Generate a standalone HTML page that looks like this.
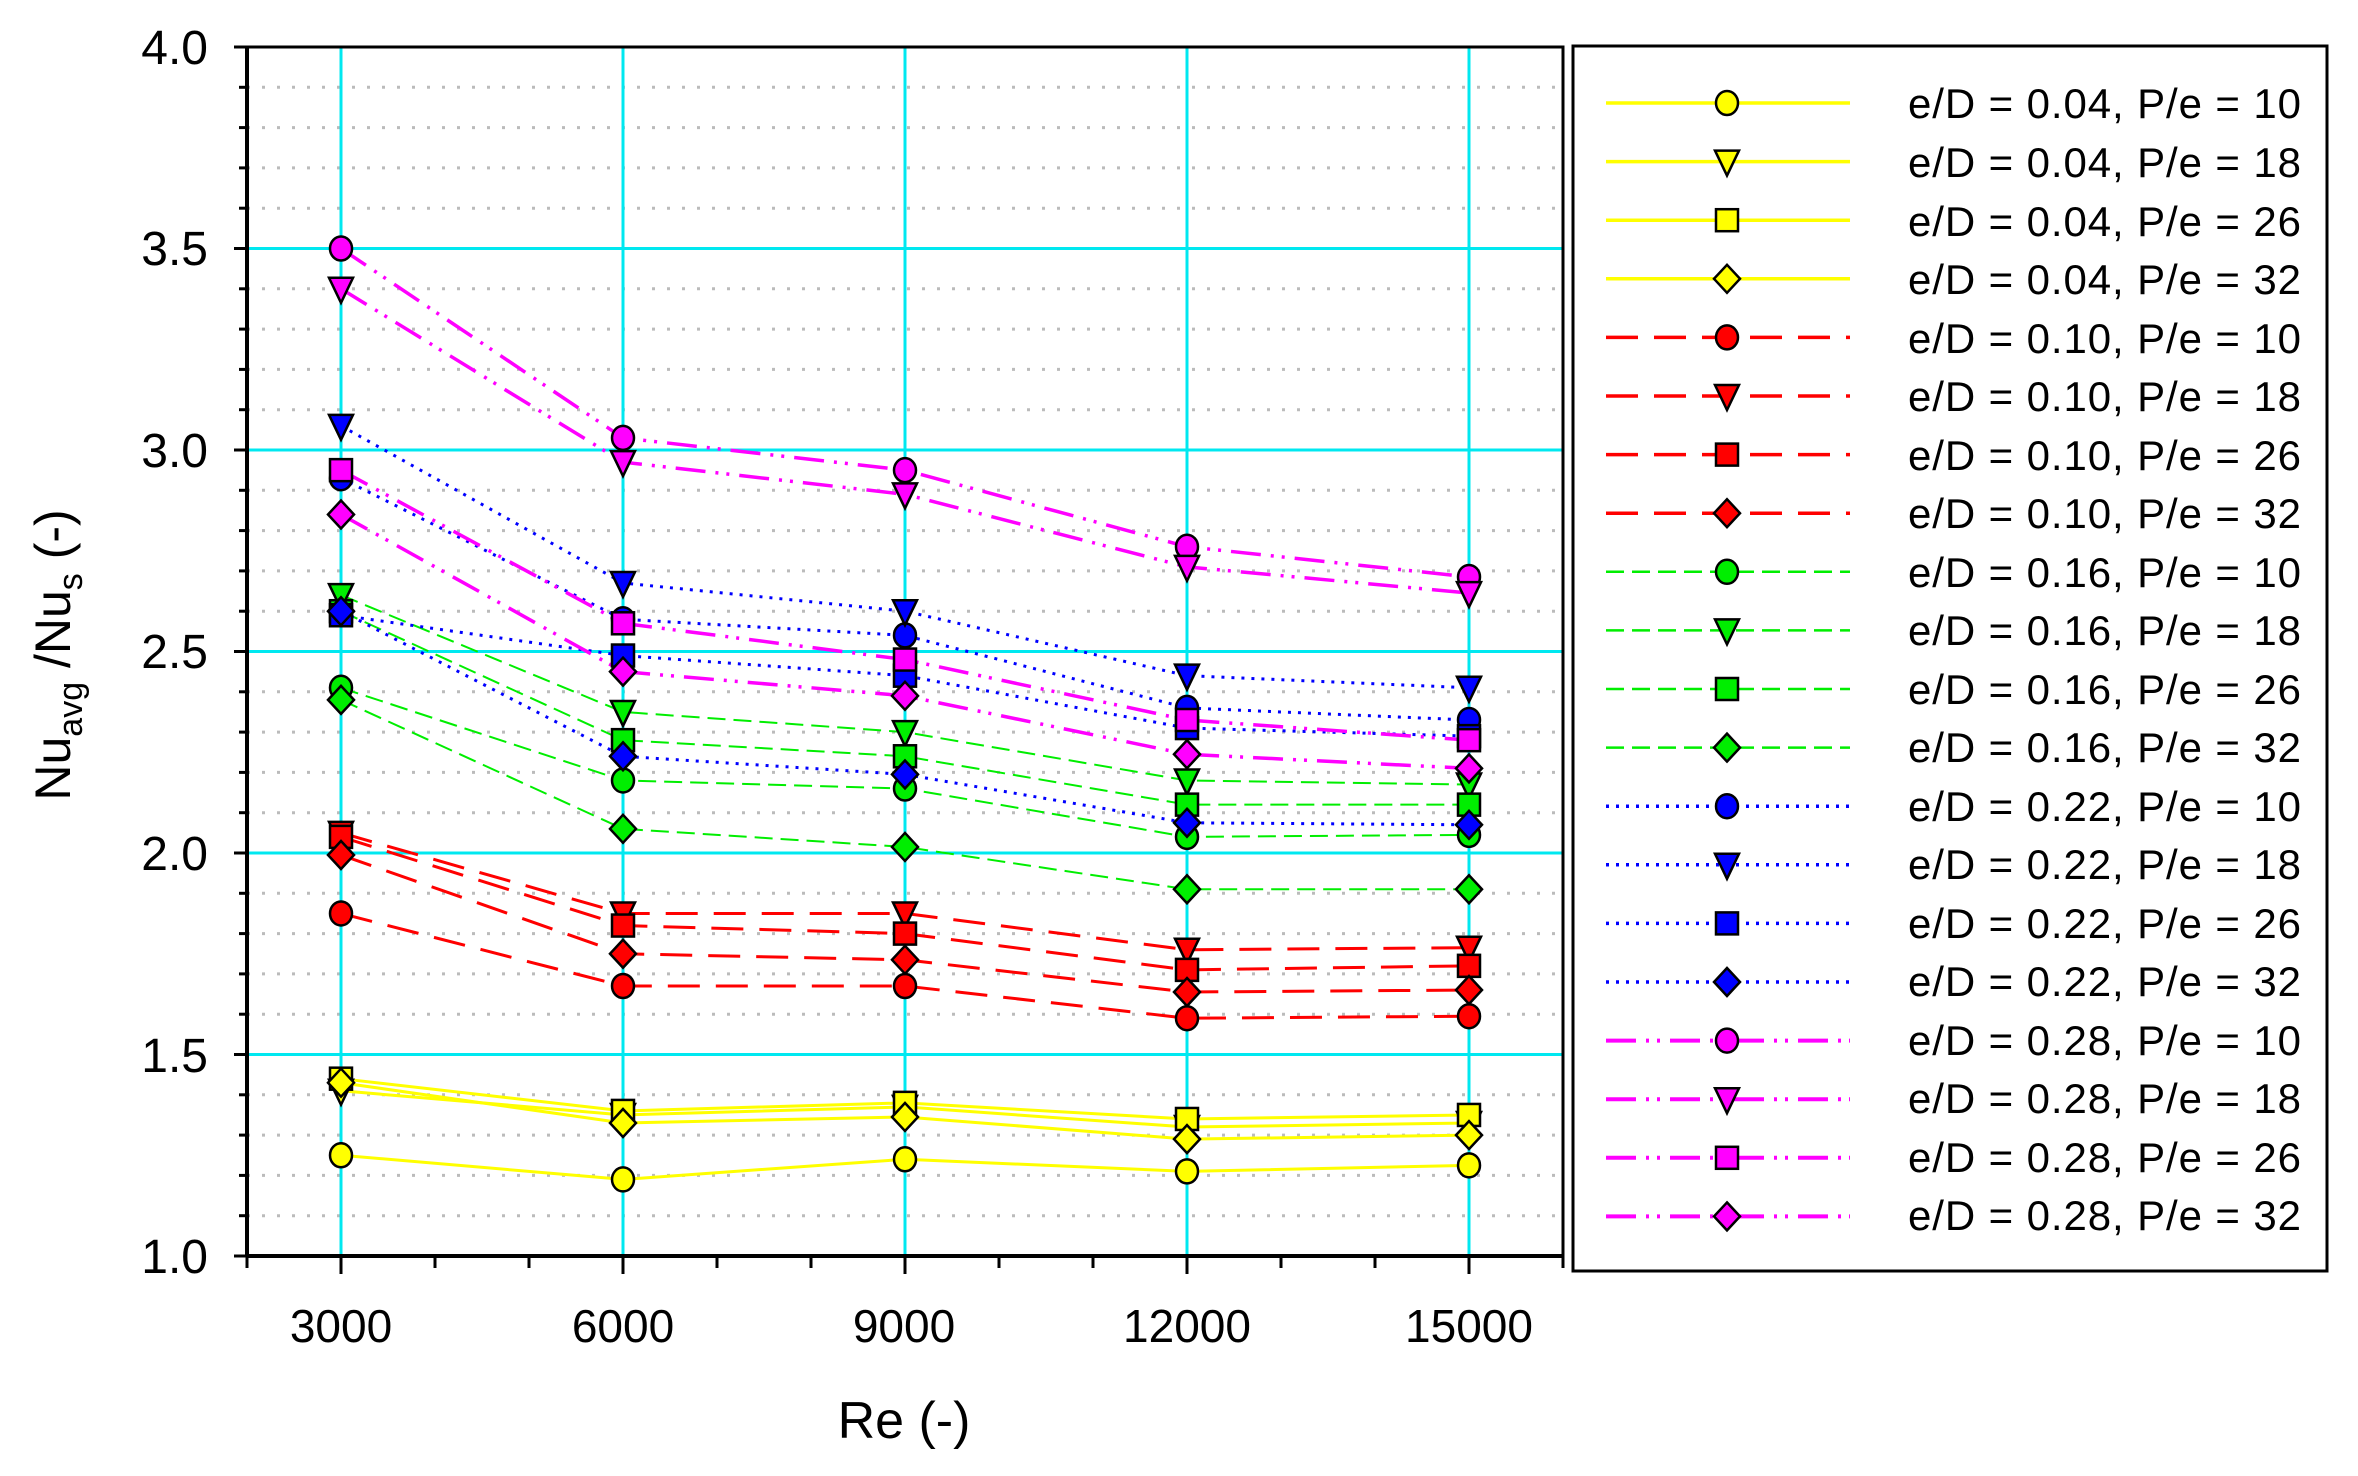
<!DOCTYPE html>
<html><head><meta charset="utf-8"><style>
html,body{margin:0;padding:0;background:#fff;}
svg{display:block;font-family:"Liberation Sans",Arial,sans-serif;}
</style></head><body>
<svg id="s" width="2358" height="1476" viewBox="0 0 2358 1476" xmlns="http://www.w3.org/2000/svg">
<rect width="2358" height="1476" fill="#fff"/>
<g id="grid"></g>
<g id="series"></g>
<g id="axes"></g>
<g font-size="48" fill="#000" text-anchor="end">
<text x="208" y="64">4.0</text>
<text x="208" y="265">3.5</text>
<text x="208" y="467">3.0</text>
<text x="208" y="668">2.5</text>
<text x="208" y="870">2.0</text>
<text x="208" y="1072">1.5</text>
<text x="208" y="1273">1.0</text>
</g>
<g font-size="46" fill="#000" text-anchor="middle">
<text x="341" y="1342">3000</text>
<text x="623" y="1342">6000</text>
<text x="904" y="1342">9000</text>
<text x="1187" y="1342">12000</text>
<text x="1469" y="1342">15000</text>
<text x="904" y="1438" font-size="52">Re (-)</text>
</g>
<text transform="translate(70,655) rotate(-90)" font-size="50" text-anchor="middle">Nu<tspan font-size="34" dy="12">avg</tspan><tspan dy="-12"> /Nu</tspan><tspan font-size="34" dy="12">s</tspan><tspan dy="-12"> (-)</tspan></text>
<rect x="1573" y="46" width="754" height="1225" fill="none" stroke="#000" stroke-width="3"/>
<g id="leg"></g>
<g font-size="42" fill="#000">
<text x="1908" y="118" textLength="393">e/D = 0.04, P/e = 10</text>
<text x="1908" y="177" textLength="393">e/D = 0.04, P/e = 18</text>
<text x="1908" y="236" textLength="393">e/D = 0.04, P/e = 26</text>
<text x="1908" y="294" textLength="393">e/D = 0.04, P/e = 32</text>
<text x="1908" y="353" textLength="393">e/D = 0.10, P/e = 10</text>
<text x="1908" y="411" textLength="393">e/D = 0.10, P/e = 18</text>
<text x="1908" y="470" textLength="393">e/D = 0.10, P/e = 26</text>
<text x="1908" y="528" textLength="393">e/D = 0.10, P/e = 32</text>
<text x="1908" y="587" textLength="393">e/D = 0.16, P/e = 10</text>
<text x="1908" y="645" textLength="393">e/D = 0.16, P/e = 18</text>
<text x="1908" y="704" textLength="393">e/D = 0.16, P/e = 26</text>
<text x="1908" y="762" textLength="393">e/D = 0.16, P/e = 32</text>
<text x="1908" y="821" textLength="393">e/D = 0.22, P/e = 10</text>
<text x="1908" y="879" textLength="393">e/D = 0.22, P/e = 18</text>
<text x="1908" y="938" textLength="393">e/D = 0.22, P/e = 26</text>
<text x="1908" y="996" textLength="393">e/D = 0.22, P/e = 32</text>
<text x="1908" y="1055" textLength="393">e/D = 0.28, P/e = 10</text>
<text x="1908" y="1113" textLength="393">e/D = 0.28, P/e = 18</text>
<text x="1908" y="1172" textLength="393">e/D = 0.28, P/e = 26</text>
<text x="1908" y="1230" textLength="393">e/D = 0.28, P/e = 32</text>
</g>
</svg>
<script>
var NS="http://www.w3.org/2000/svg";
function el(p,t,a){var e=document.createElementNS(NS,t);for(var k in a)e.setAttribute(k,a[k]);p.appendChild(e);return e;}
var L=247,R=1563,T=47,B=1256;
function X(v){return L+(v-2000)/14000*(R-L);}
function Y(v){return B-(v-1)/3*(B-T);}
var g=document.getElementById('grid'),ax=document.getElementById('axes');
for(var i=1;i<30;i++){var v=1+i*0.1;if(i%5==0)continue;el(g,'line',{x1:L,x2:R,y1:Y(v),y2:Y(v),stroke:'#bbb','stroke-width':3,'stroke-dasharray':'3 12'});}
for(var i=1;i<6;i++){var y=Y(1+i*0.5);el(g,'line',{x1:L,x2:R,y1:y,y2:y,stroke:'#00e8f0','stroke-width':3});}
[3000,6000,9000,12000,15000].forEach(function(v){el(g,'line',{x1:X(v),x2:X(v),y1:T,y2:B,stroke:'#00e8f0','stroke-width':3});});
el(ax,'polyline',{points:L+','+T+' '+R+','+T+' '+R+','+B,fill:'none',stroke:'#000','stroke-width':3});
el(ax,'line',{x1:L,x2:L,y1:T,y2:B,stroke:'#000','stroke-width':4});
el(ax,'line',{x1:L,x2:R,y1:B,y2:B,stroke:'#000','stroke-width':4});
for(var i=0;i<=30;i++){var y=Y(1+i*0.1);el(ax,'line',{x1:L-(i%5==0?13:8),x2:L,y1:y,y2:y,stroke:'#000','stroke-width':3});}
for(var v=2000;v<=16000;v+=1000){var big=(v%3000==0);el(ax,'line',{x1:X(v),x2:X(v),y1:B,y2:B+(big?18:12),stroke:'#000','stroke-width':3});}
var xs=[3000,6000,9000,12000,15000];
var cols=['#ffff00','#ff0000','#00ee00','#0000ff','#ff00ff'];
var dash=['',  '32 16','18 8','3 7','30 10 3 8 3 10'];
var wid=[3,3,2,3,3.5];
var data=[
[[1.25,1.19,1.24,1.21,1.225],[1.41,1.35,1.37,1.32,1.33],[1.44,1.36,1.38,1.34,1.35],[1.43,1.33,1.345,1.29,1.30]],
[[1.85,1.67,1.67,1.59,1.595],[2.05,1.85,1.85,1.76,1.765],[2.04,1.82,1.80,1.71,1.72],[1.995,1.75,1.735,1.655,1.66]],
[[2.41,2.18,2.16,2.04,2.045],[2.64,2.35,2.30,2.18,2.17],[2.60,2.28,2.24,2.12,2.12],[2.38,2.06,2.015,1.91,1.91]],
[[2.93,2.58,2.54,2.36,2.33],[3.06,2.67,2.60,2.44,2.41],[2.59,2.49,2.44,2.31,2.29],[2.60,2.24,2.195,2.075,2.07]],
[[3.50,3.03,2.95,2.76,2.685],[3.40,2.97,2.89,2.71,2.645],[2.95,2.57,2.48,2.33,2.28],[2.84,2.45,2.39,2.245,2.21]]];
function marker(p,k,x,y,c){var a={fill:c,stroke:'#000','stroke-width':2.5};
 if(k==0){a.cx=x;a.cy=y;a.rx=11;a.ry=12;el(p,'ellipse',a);}
 else if(k==1){a.points=(x-12)+','+(y-11)+' '+(x+12)+','+(y-11)+' '+x+','+(y+14);el(p,'polygon',a);}
 else if(k==2){a.x=x-11;a.y=y-11;a.width=22;a.height=22;el(p,'rect',a);}
 else {a.points=x+','+(y-14)+' '+(x+13)+','+y+' '+x+','+(y+14)+' '+(x-13)+','+y;el(p,'polygon',a);}}
var s=document.getElementById('series'),lg=document.getElementById('leg');
for(var gI=0;gI<5;gI++)for(var k=0;k<4;k++){
 var pts=data[gI][k].map(function(v,i){return X(xs[i])+','+Y(v);}).join(' ');
 var a={points:pts,fill:'none',stroke:cols[gI],'stroke-width':wid[gI]};if(dash[gI])a['stroke-dasharray']=dash[gI];
 el(s,'polyline',a);}
for(var gI=0;gI<5;gI++)for(var k=0;k<4;k++){data[gI][k].forEach(function(v,i){marker(s,k,X(xs[i]),Y(v),cols[gI]);});}
for(var gI=0;gI<5;gI++)for(var k=0;k<4;k++){var idx=gI*4+k;var y=103+idx*58.6;
 var a={x1:1606,x2:1850,y1:y,y2:y,stroke:cols[gI],'stroke-width':wid[gI]+0.5};if(dash[gI])a['stroke-dasharray']=dash[gI];
 el(lg,'line',a);marker(lg,k,1727,y,cols[gI]);}
</script>
</body></html>
